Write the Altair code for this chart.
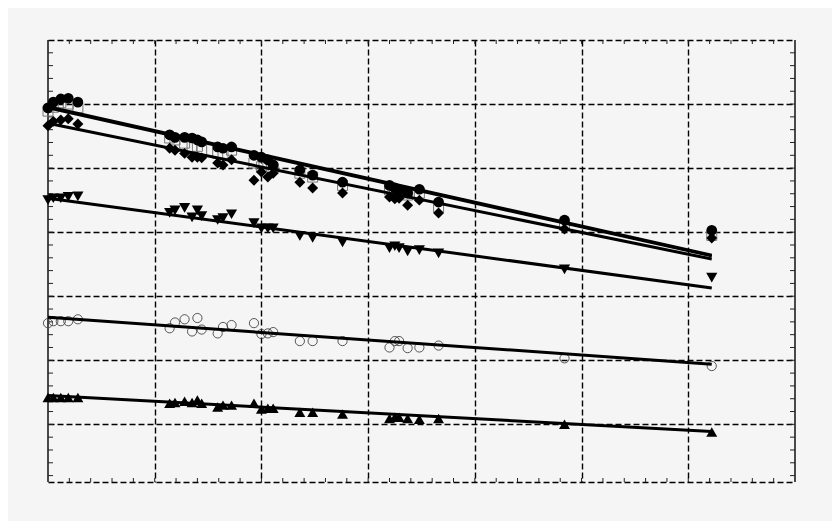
import altair as alt
import pandas as pd

# ---- data ----
X = [0.00, 0.05, 0.12, 0.19, 0.28,
     1.14, 1.19, 1.28, 1.35, 1.40, 1.44, 1.59, 1.64, 1.72,
     1.93, 2.00, 2.06, 2.11,
     2.36, 2.48, 2.76,
     3.20, 3.25, 3.29, 3.37, 3.48, 3.66,
     4.84, 6.22]

circles_filled = [5.94, 6.03, 6.08, 6.09, 6.03,
                  5.52, 5.48, 5.48, 5.47, 5.44, 5.41, 5.33, 5.31, 5.33,
                  5.20, 5.17, 5.13, 5.05,
                  4.97, 4.89, 4.78,
                  4.73, 4.69, 4.66, 4.61, 4.67, 4.47,
                  4.19, 4.03]
squares_open = [5.89, 5.95, 6.02, 6.00, 5.94,
                5.47, 5.44, 5.39, 5.33, 5.34, 5.28, 5.23, 5.23, 5.28,
                5.08, 5.02, 5.08, 5.00,
                4.92, 4.86, 4.73,
                4.66, 4.63, 4.61, 4.58, 4.61, 4.39,
                4.11, 3.95]
diamonds = [5.66, 5.73, 5.75, 5.77, 5.69,
            5.31, 5.28, 5.23, 5.17, 5.17, 5.16, 5.08, 5.05, 5.13,
            4.81, 4.94, 4.86, 4.92,
            4.78, 4.69, 4.61,
            4.55, 4.52, 4.53, 4.42, 4.50, 4.30,
            4.05, 3.91]
tri_down = [4.50, 4.53, 4.53, 4.55, 4.56,
            4.30, 4.34, 4.38, 4.23, 4.34, 4.25, 4.19, 4.22, 4.28,
            4.14, 4.06, 4.06, 4.06,
            3.94, 3.91, 3.84,
            3.75, 3.78, 3.75, 3.70, 3.72, 3.67,
            3.42, 3.29]
circles_open = [2.58, 2.61, 2.61, 2.61, 2.64,
                2.50, 2.59, 2.64, 2.45, 2.66, 2.48, 2.42, 2.52, 2.55,
                2.58, 2.41, 2.42, 2.44,
                2.30, 2.30, 2.30,
                2.20, 2.30, 2.30, 2.19, 2.20, 2.23,
                2.03, 1.91]
tri_up = [1.42, 1.42, 1.42, 1.42, 1.42,
          1.33, 1.34, 1.36, 1.34, 1.38, 1.33, 1.27, 1.30, 1.30,
          1.33, 1.24, 1.25, 1.25,
          1.19, 1.19, 1.16,
          1.09, 1.11, 1.11, 1.09, 1.08, 1.09,
          1.00, 0.88]

# fitted lines (start / end)
fit_x = [0.0, 6.22]
fit_circles = [5.96, 3.64]
fit_squares = [5.94, 3.63]
fit_diamonds = [5.70, 3.58]
fit_tri_down = [4.53, 3.13]
fit_circles_open = [2.67, 1.94]
fit_tri_up = [1.45, 0.89]

x_major = [1, 2, 3, 4, 5, 6]
y_major = [0.1, 1, 2, 3, 4, 5, 6, 7]
x_edges = [0, 7]
x_minor = [round(0.2 * i, 1) for i in range(1, 35)]
y_minor = [round(0.2 * i, 1) for i in range(1, 35)]

W, H = 747, 442

xs = alt.Scale(domain=[0, 7], nice=False, zero=False)
ys = alt.Scale(domain=[0.1, 7], nice=False, zero=False)
grid_kw = dict(grid=True, gridDash=[6, 3], gridColor="black", gridWidth=1.4,
               gridOpacity=1, labels=False, ticks=False, domain=False, title=None)
xax = alt.Axis(values=x_major, **grid_kw)
yax = alt.Axis(values=y_major, **grid_kw)


def ex(f="x"):
    return alt.X(f, type="quantitative", scale=xs, axis=xax)


def ey(f="y"):
    return alt.Y(f, type="quantitative", scale=ys, axis=yax)


layers = []

# left/right solid frame edges
edges = pd.DataFrame({"x": x_edges})
layers.append(alt.Chart(edges).mark_rule(color="black", strokeWidth=1.4).encode(
    x=ex(), y=alt.value(0), y2=alt.value(H)))

# carrier for the y axis grid
ydf = pd.DataFrame({"y": y_major})
layers.append(alt.Chart(ydf).mark_rule(opacity=0).encode(
    y=ey(), x=alt.value(0), x2=alt.value(1)))

# inward minor ticks
xt = pd.DataFrame({"x": x_minor})
yt = pd.DataFrame({"y": y_minor})
tick_style = dict(color="#222", strokeWidth=1)
layers.append(alt.Chart(xt).mark_rule(**tick_style).encode(
    x=ex(), y=alt.value(H - 4), y2=alt.value(H)))
layers.append(alt.Chart(xt).mark_rule(**tick_style).encode(
    x=ex(), y=alt.value(0), y2=alt.value(4)))
layers.append(alt.Chart(yt).mark_rule(**tick_style).encode(
    y=ey(), x=alt.value(0), x2=alt.value(5)))
layers.append(alt.Chart(yt).mark_rule(**tick_style).encode(
    y=ey(), x=alt.value(W - 5), x2=alt.value(W)))

# markers
series = [
    (squares_open, dict(shape="square", filled=False, color="#777", size=100, strokeWidth=1, opacity=1)),
    (circles_open, dict(shape="circle", filled=False, color="#444", size=85, strokeWidth=0.9, opacity=1)),
    (diamonds, dict(shape="diamond", filled=True, color="black", size=120, opacity=1)),
    (tri_down, dict(shape="triangle-down", filled=True, color="black", size=125, opacity=1)),
    (tri_up, dict(shape="triangle-up", filled=True, color="black", size=120, opacity=1)),
]

for vals, kw in series:
    df = pd.DataFrame({"x": X, "y": vals})
    layers.append(alt.Chart(df).mark_point(**kw).encode(x=ex(), y=ey()))

# fitted lines
fits = [fit_circles, fit_squares, fit_diamonds, fit_tri_down, fit_circles_open, fit_tri_up]
rows = []
for i, f in enumerate(fits):
    for xv, yv in zip(fit_x, f):
        rows.append({"x": xv, "y": yv, "s": i})
fdf = pd.DataFrame(rows)
layers.append(alt.Chart(fdf).mark_line(color="black", strokeWidth=3).encode(
    x=ex(), y=ey(), detail="s:N"))

# filled circles on top
cdf = pd.DataFrame({"x": X, "y": circles_filled})
layers.append(alt.Chart(cdf).mark_point(shape="circle", filled=True, color="black",
                                          size=115, opacity=1).encode(x=ex(), y=ey()))

chart = alt.layer(*layers).properties(
    width=W, height=H,
    background="#f5f5f5",
    padding={"left": 40, "top": 32, "right": 37, "bottom": 39},
    autosize=alt.AutoSizeParams(type="none"),
).configure_view(stroke=None)

chart.save("out.html", embed_options={"renderer": "svg", "actions": False})
